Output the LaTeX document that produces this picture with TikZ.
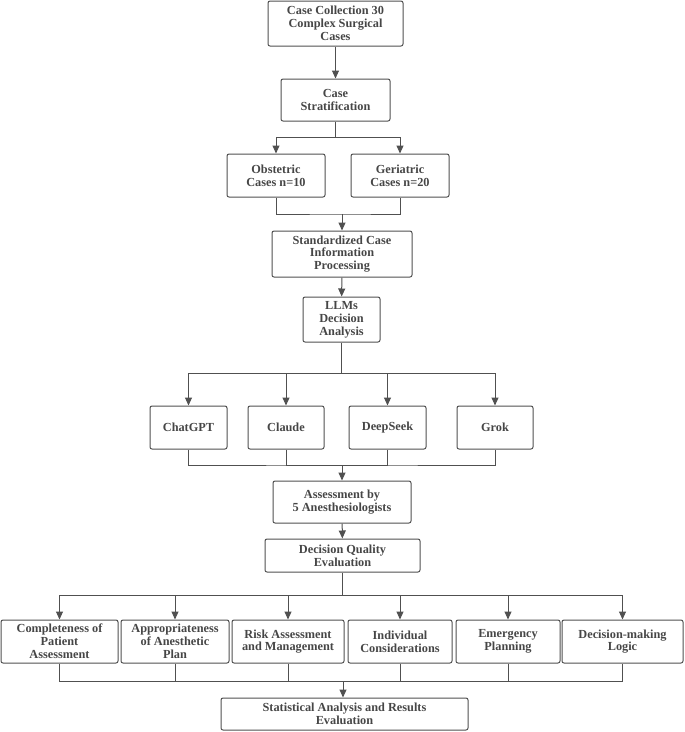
\documentclass[tikz,border=0pt]{standalone}
\usepackage{fontspec}
\setmainfont{Liberation Serif}
\usetikzlibrary{arrows.meta}
\definecolor{ln}{HTML}{505050}
\definecolor{tx}{HTML}{464646}
\begin{document}
\begin{tikzpicture}[x=1pt,y=-1pt,
  box/.style={draw=ln,line width=1pt,rounded corners=2pt,text=tx,align=center,inner sep=0pt,
    font=\fontsize{12.3}{12.8}\selectfont\bfseries},
  conn/.style={draw=ln,line width=1pt},
  arr/.style={conn,-{Triangle[length=8pt,width=7pt]}}]
\path[use as bounding box] (0,0) rectangle (685,732);
\node[box,minimum width=135pt,minimum height=45pt] (n1) at (335.5,23.5) {Case Collection 30\\Complex Surgical\\Cases};
\node[box,minimum width=109pt,minimum height=42pt] (n2) at (335.5,100) {Case\\Stratification};
\node[box,minimum width=98pt,minimum height=43pt] (ob) at (276,175.5) {Obstetric\\Cases n=10};
\node[box,minimum width=98pt,minimum height=43pt] (ge) at (400,175.5) {Geriatric\\Cases n=20};
\node[box,minimum width=140pt,minimum height=46pt] (std) at (342,254) {Standardized Case\\Information\\Processing};
\node[box,minimum width=77pt,minimum height=45pt] (llm) at (341.5,319.5) {LLMs\\Decision\\Analysis};
\node[box,minimum width=77pt,minimum height=43pt] (m1) at (188.5,427.5) {ChatGPT};
\node[box,minimum width=76pt,minimum height=43pt] (m2) at (286,427.5) {Claude};
\node[box,minimum width=77pt,minimum height=43pt] (m3) at (387.5,427.5) {DeepSeek};
\node[box,minimum width=76pt,minimum height=43pt] (m4) at (495,427.5) {Grok};
\node[box,minimum width=138pt,minimum height=42pt] (ass) at (342,502) {Assessment by\\5 Anesthesiologists};
\node[box,minimum width=155pt,minimum height=33pt] (dq) at (342.5,555.5) {Decision Quality\\Evaluation};
\node[box,minimum width=117pt,minimum height=43pt] (c1) at (59.5,641.5) {Completeness of\\Patient\\Assessment};
\node[box,minimum width=108pt,minimum height=43pt] (c2) at (175,641.5) {Appropriateness\\of Anesthetic\\Plan};
\node[box,minimum width=112pt,minimum height=43pt] (c3) at (288,641.5) {Risk Assessment\\and Management};
\node[box,minimum width=104pt,minimum height=43pt] (c4) at (400,641.5) {Individual\\Considerations};
\node[box,minimum width=104pt,minimum height=43pt] (c5) at (508,641.5) {Emergency\\Planning};
\node[box,minimum width=121pt,minimum height=43pt] (c6) at (622.5,641.5) {Decision-making\\Logic};
\node[box,minimum width=247pt,minimum height=32pt] (st) at (344.5,714) {Statistical Analysis and Results\\Evaluation};
% connectors
\draw[arr] (n1) -- (n2);
\coordinate (b1) at (335.5,137);
\draw[conn] (n2.south) -- (b1);
\draw[arr] (b1) -| (ob.north);
\draw[arr] (b1) -| (ge.north);
\coordinate (j1) at (342,214);
\draw[conn] (ob.south) |- (j1) -| (ge.south);
\draw[arr] (j1) -- (std.north);
\draw[arr] (std) -- (llm);
\coordinate (b2) at (341.5,373);
\draw[conn] (llm.south) -- (b2);
\foreach \m in {m1,m2,m3,m4} \draw[arr] (b2) -| (\m.north);
\coordinate (j2) at (342,465);
\draw[conn] (m1.south) |- (j2) -| (m4.south);
\draw[conn] (m2.south) |- (j2);
\draw[conn] (m3.south) |- (j2);
\draw[arr] (j2) -- (ass.north);
\draw[arr] (ass) -- (dq);
\coordinate (b3) at (342.5,595);
\draw[conn] (dq.south) -- (b3);
\foreach \c in {c1,c2,c3,c4,c5,c6} \draw[arr] (b3) -| (\c.north);
\coordinate (j3) at (343,681);
\draw[conn] (c1.south) |- (j3) -| (c6.south);
\foreach \c in {c2,c3,c4,c5} \draw[conn] (\c.south) |- (j3);
\draw[arr] (j3) -- (j3 |- st.north);
\end{tikzpicture}
\end{document}
